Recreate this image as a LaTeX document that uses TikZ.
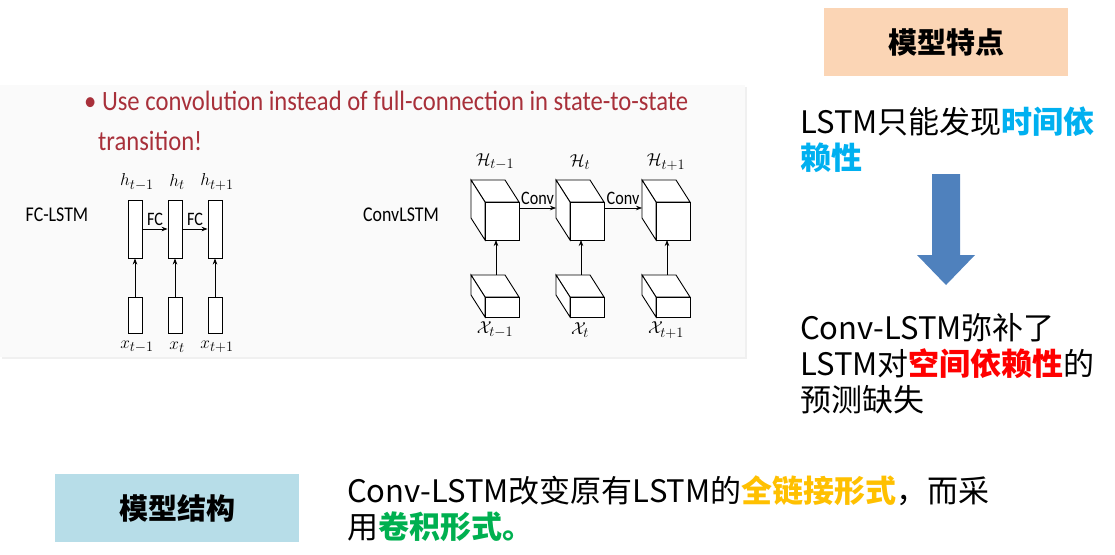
\documentclass[tikz,border=0pt]{standalone}
\usepackage{fontspec}
\setmainfont{Carlito}
\newfontfamily\cjk{Noto Sans CJK SC}
\usetikzlibrary{arrows.meta}
\definecolor{peach}{HTML}{FBD5B5}
\definecolor{lblue}{HTML}{B7DDE8}
\definecolor{arrblue}{HTML}{4F81BD}
\definecolor{cyanb}{HTML}{00B0F0}
\definecolor{redb}{HTML}{FF0000}
\definecolor{orb}{HTML}{FFC000}
\definecolor{grb}{HTML}{00B050}
\definecolor{slred}{HTML}{A8303A}
\tikzset{
  cn/.style={font=\cjk\fontsize{31}{36}\selectfont, anchor=west, inner sep=0},
  hdr/.style={font=\cjk\bfseries\fontsize{29}{34}\selectfont, minimum width=244pt, minimum height=68pt},
  rbox/.style={draw, line width=0.9pt, fill=white, minimum width=14pt, inner sep=0},
  lab/.style={font=\fontsize{19}{22}\selectfont, inner sep=0},
  arr/.style={-{Stealth[length=6pt]}, line width=0.7pt},
  cube/.style={line width=0.9pt, fill=white}
}
\begin{document}
\begin{tikzpicture}[x=1pt,y=-1pt]
\useasboundingbox (0,0) rectangle (1115,554);
% panel
\fill[black!6] (2,87) rectangle (747,359);
\fill[black!2] (0,85) rectangle (745,357);
\node[font=\fontsize{28}{32}\selectfont, text=slred, anchor=west, inner sep=0] (t1) at (84,101) {\scalebox{0.88}[1]{\textbullet\ Use convolution instead of full-connection in state-to-state}};
\node[font=\fontsize{28}{32}\selectfont, text=slred, anchor=west, inner sep=0] (t2) at (98,141) {\scalebox{0.88}[1]{transition!}};
% FC-LSTM
\node[lab, font=\fontsize{21}{24}\selectfont] (fcl) at (57,215) {\scalebox{0.85}[1]{FC-LSTM}};
\foreach \i/\x/\s in {1/135/{t-1},2/175/t,3/215/{t+1}}{
  \node[rbox, minimum height=58pt] (h\i) at (\x,229) {};
  \node[rbox, minimum height=36pt] (x\i) at (\x,315) {};
  \draw[arr] (x\i.north) -- (h\i.south);
  \node[lab] (hl\i) at (\x+2,182) {$h_{\s}$};
  \node[lab] (xl\i) at (\x+2,347) {$x_{\s}$};
}
\draw[arr] (h1.east) -- (h2.west) node[midway, above=3pt, lab] (fc1) {\scalebox{0.85}[1]{FC}};
\draw[arr] (h2.east) -- (h3.west) node[midway, above=3pt, lab] (fc2) {\scalebox{0.85}[1]{FC}};
% ConvLSTM
\node[lab, font=\fontsize{21}{24}\selectfont] (cvl) at (401,215) {\scalebox{0.85}[1]{ConvLSTM}};
\foreach \i/\x/\s in {1/471/{t-1},2/556/t,3/642/{t+1}}{
  \draw[cube] (\x,180) -- (\x+34,180) -- (\x+48,202) -- (\x+14,202) -- cycle;
  \draw[cube] (\x,180) -- (\x+14,202) -- (\x+14,240) -- (\x,218) -- cycle;
  \draw[cube] (\x+14,202) rectangle (\x+48,240);
  \coordinate (bb\i) at (\x+25,240);
  \coordinate (bl\i) at (\x,208);
  \coordinate (br\i) at (\x+48,208);
  \draw[cube] (\x,275) -- (\x+34,275) -- (\x+48,297) -- (\x+14,297) -- cycle;
  \draw[cube] (\x,275) -- (\x+14,297) -- (\x+14,317) -- (\x,295) -- cycle;
  \draw[cube] (\x+14,297) rectangle (\x+48,317);
  \coordinate (st\i) at (\x+25,275);
  \draw[arr] (st\i) -- (bb\i);
  \node[lab] (H\i) at (\x+24,162) {$\mathcal{H}_{\s}$};
  \node[lab] (X\i) at (\x+24,330) {$\mathcal{X}_{\s}$};
}
\draw[arr] (br1) -- (bl2) node[midway, above=3pt, lab] (cv1) {\scalebox{0.85}[1]{Conv}};
\draw[arr] (br2) -- (bl3) node[midway, above=3pt, lab] (cv2) {\scalebox{0.85}[1]{Conv}};
% right side
\node[hdr, fill=peach] (tz) at (946,42) {模型特点};
\node[cn] (r1) at (800,122) {LSTM只能发现\textbf{\textcolor{cyanb}{时间依}}};
\node[cn] (r2) at (800,158) {\textbf{\textcolor{cyanb}{赖性}}};
\fill[arrblue] (932,174) -- (960,174) -- (960,255) -- (975,255) -- (946,285) -- (917,255) -- (932,255) -- cycle;
\node[cn] (r3) at (800,328) {Conv-LSTM弥补了};
\node[cn] (r4) at (800,364) {LSTM对\textbf{\textcolor{redb}{空间依赖性}}的};
\node[cn] (r5) at (800,400) {预测缺失};
% bottom
\node[hdr, fill=lblue] (jg) at (177,508) {模型结构};
\node[cn] (b1) at (347,491) {Conv-LSTM改变原有LSTM的\textbf{\textcolor{orb}{全链接形式}}，而采};
\node[cn] (b2) at (347,527) {用\textbf{\textcolor{grb}{卷积形式。}}};
\end{tikzpicture}
\end{document}
